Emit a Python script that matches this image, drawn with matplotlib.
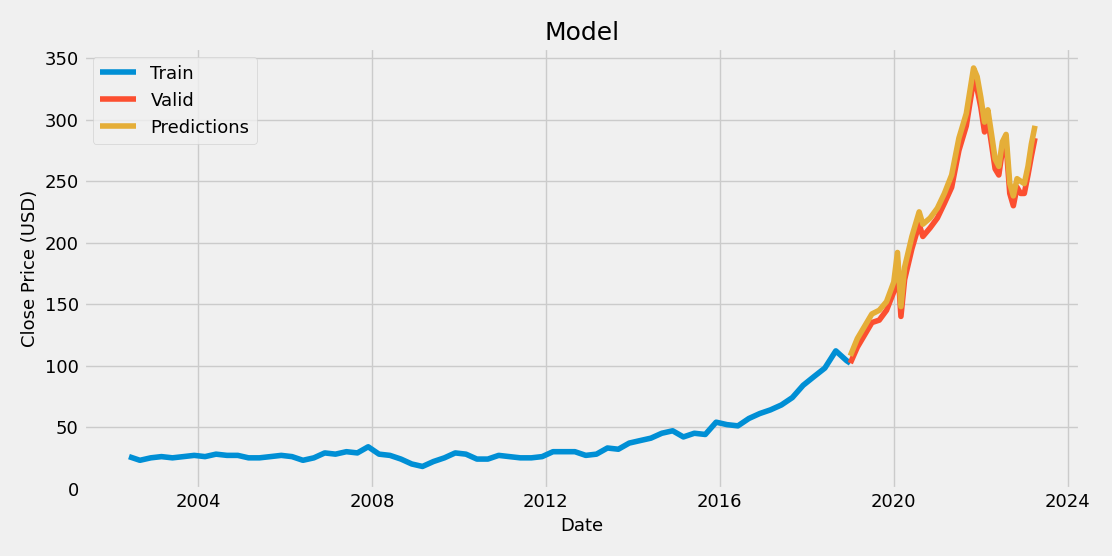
import matplotlib
matplotlib.use("Agg")
import matplotlib.pyplot as plt
import pandas as pd

plt.style.use("fivethirtyeight")

train_dates = ["2002-06","2002-09","2002-12","2003-03","2003-06","2003-09","2003-12","2004-03","2004-06","2004-09","2004-12",
               "2005-03","2005-06","2005-09","2005-12","2006-03","2006-06","2006-09","2006-12","2007-03","2007-06","2007-09","2007-12",
               "2008-03","2008-06","2008-09","2008-12","2009-03","2009-06","2009-09","2009-12","2010-03","2010-06","2010-09","2010-12",
               "2011-03","2011-06","2011-09","2011-12","2012-03","2012-06","2012-09","2012-12","2013-03","2013-06","2013-09","2013-12",
               "2014-03","2014-06","2014-09","2014-12","2015-03","2015-06","2015-09","2015-12","2016-03","2016-06","2016-09","2016-12",
               "2017-03","2017-06","2017-09","2017-12","2018-03","2018-06","2018-09","2018-12","2019-01"]
train_close = [26,23,25,26,25,26,27,26,28,27,27,
               25,25,26,27,26,23,25,29,28,30,29,34,
               28,27,24,20,18,22,25,29,28,24,24,27,
               26,25,25,26,30,30,30,27,28,33,32,37,
               39,41,45,47,42,45,44,54,52,51,57,61,
               64,68,74,84,91,98,112,104,102]

valid_dates = ["2019-01","2019-03","2019-05","2019-07","2019-09","2019-11","2020-01","2020-02","2020-03","2020-04","2020-06",
               "2020-08","2020-09","2020-11","2021-01","2021-03","2021-05","2021-07","2021-09","2021-11","2021-12","2022-01",
               "2022-02","2022-03","2022-04","2022-05","2022-06","2022-07","2022-08","2022-09","2022-10","2022-11","2022-12",
               "2023-01","2023-02","2023-03","2023-04"]
valid_close = [102,115,125,135,137,145,160,185,140,170,195,
               215,205,212,220,232,245,275,295,332,325,310,
               290,300,280,260,255,275,280,240,230,245,240,240,255,270,285]
pred_close = [108,122,132,142,145,152,168,192,148,180,205,
              225,215,220,228,240,255,285,305,342,335,318,
              298,308,288,268,262,282,288,248,238,252,250,248,262,280,295]

fig, ax = plt.subplots(figsize=(11.12, 5.56), dpi=100)
ax.plot(pd.to_datetime(train_dates), train_close, label="Train")
ax.plot(pd.to_datetime(valid_dates), valid_close, label="Valid")
ax.plot(pd.to_datetime(valid_dates), pred_close, label="Predictions")
ax.set_ylim(0, 358)
ax.set_title("Model", fontsize=18)
ax.set_xlabel("Date", fontsize=13)
ax.set_ylabel("Close Price (USD)", fontsize=13)
ax.tick_params(labelsize=13)
ax.legend(loc="upper left", fontsize=13)
plt.tight_layout()
fig.savefig("out.png")
